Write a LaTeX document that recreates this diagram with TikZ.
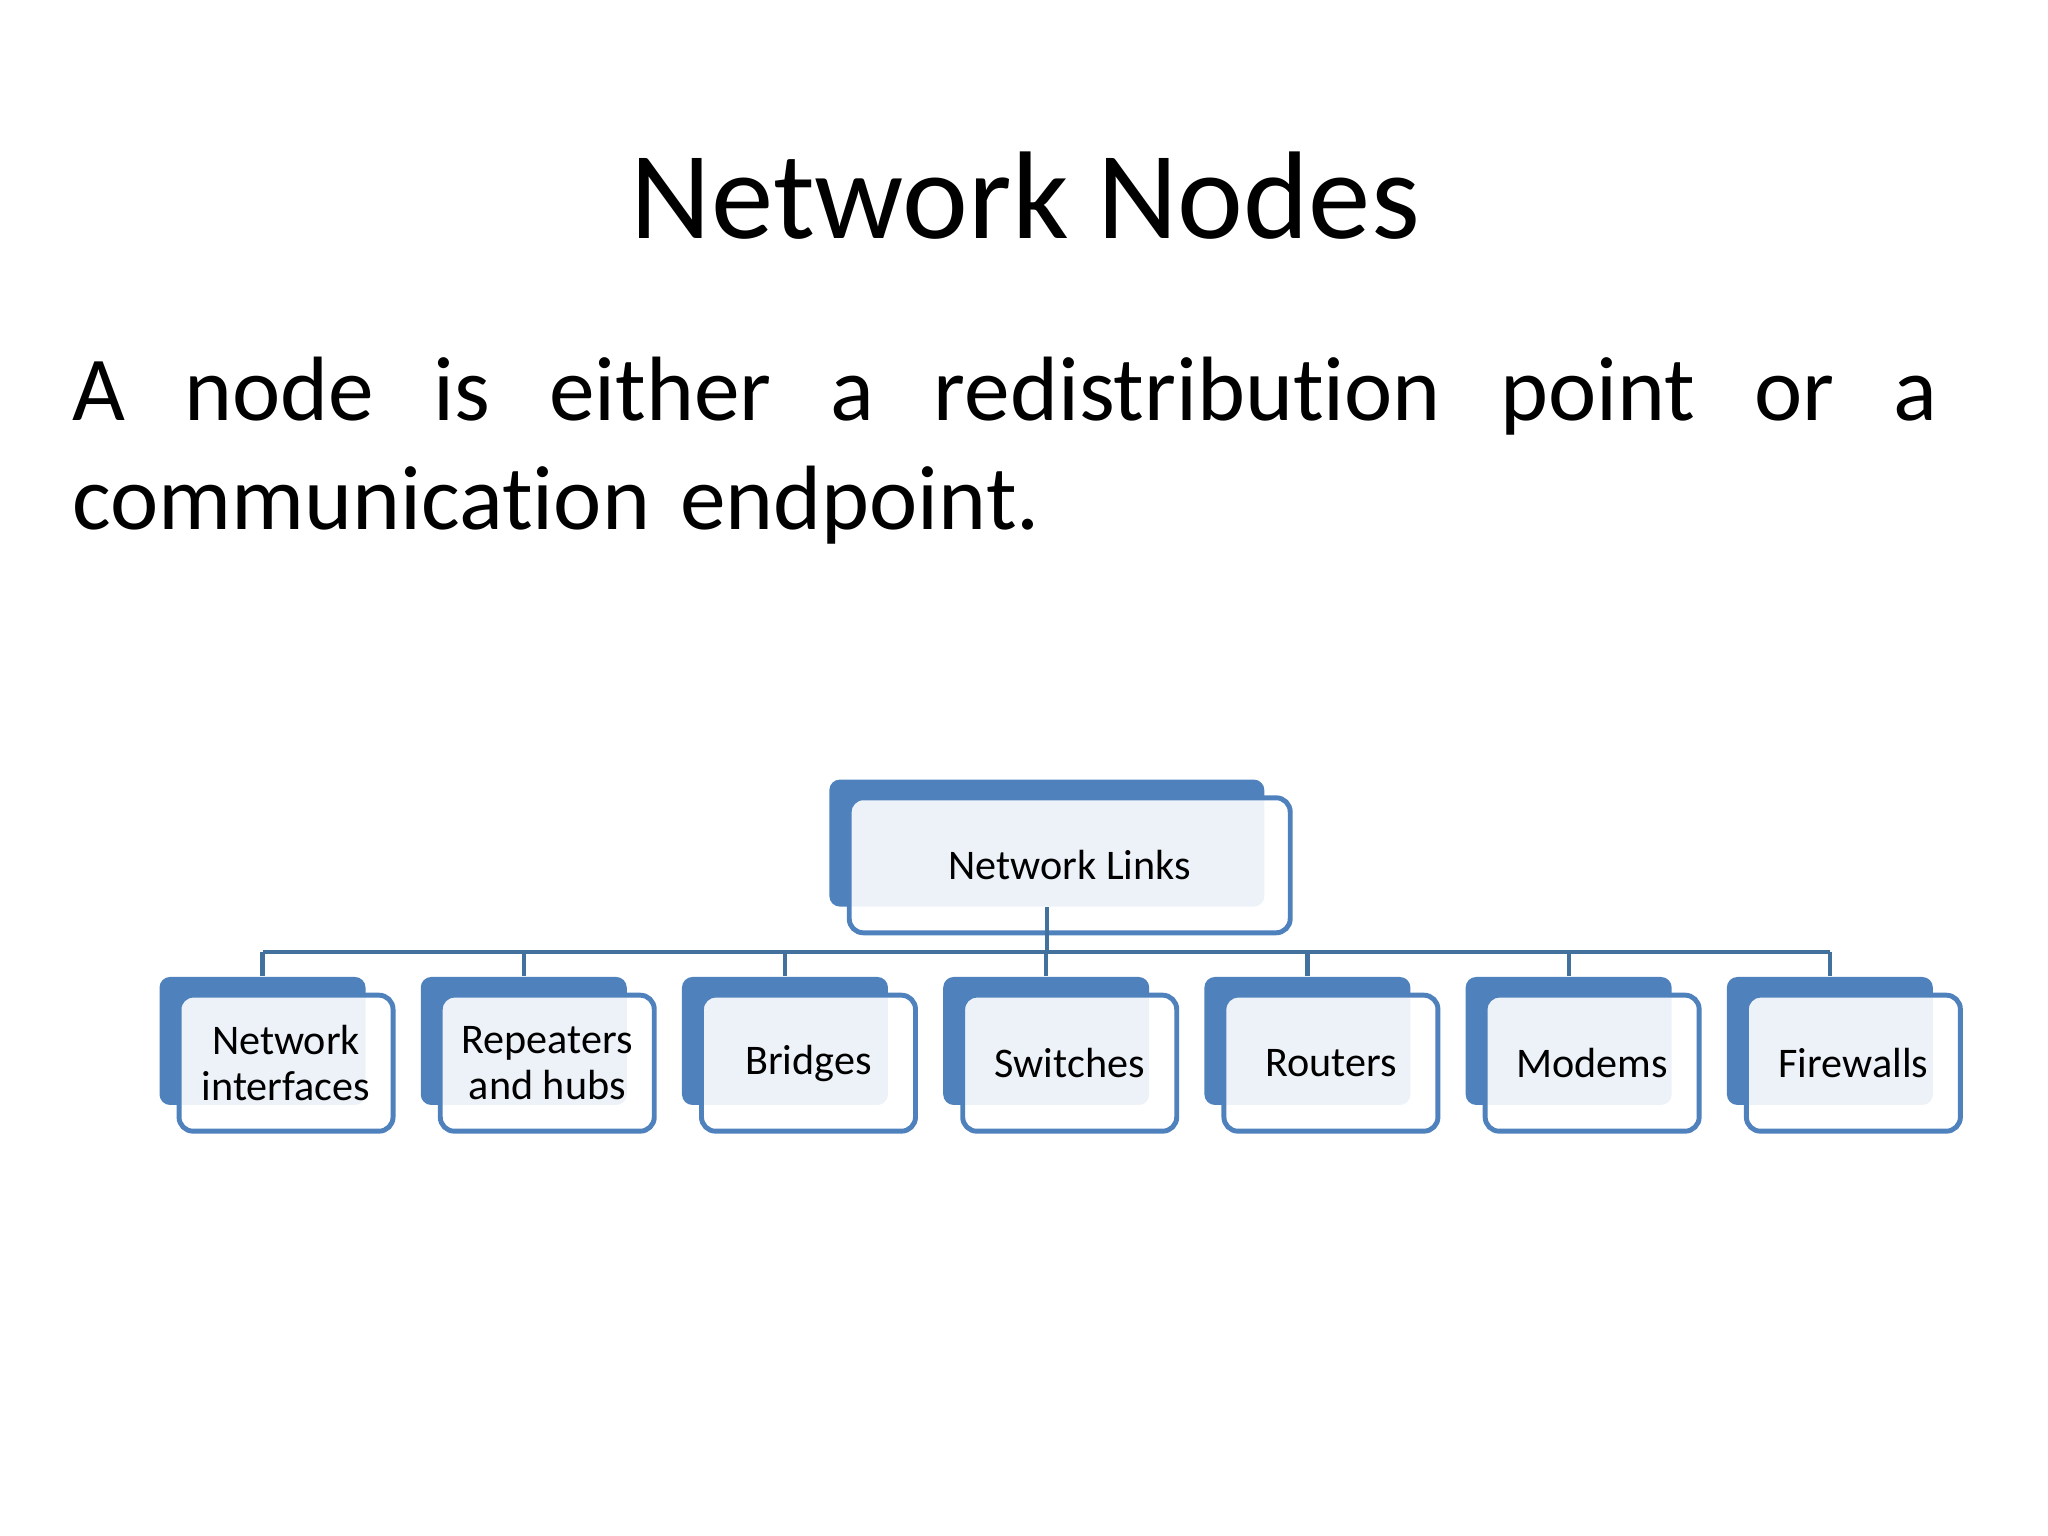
\documentclass[tikz,border=0pt]{standalone}
\usepackage{fontspec}
\setmainfont{Carlito}[Ligatures=CommonOff]
\usetikzlibrary{positioning}
\definecolor{accent}{HTML}{4F81BD}
\definecolor{linkline}{HTML}{41719C}

\begin{document}
\begin{tikzpicture}[x=0.01306cm, y=-0.01306cm]
\tikzstyle{backbox}=[rectangle, fill=accent, rounded corners=3pt, inner sep=0pt]
\tikzstyle{frontbox}=[rectangle, draw=accent, line width=1.4pt, fill=white, fill opacity=0.9, text opacity=1, rounded corners=4pt, inner sep=0pt, align=center, font=\fontsize{12}{13}\selectfont]
\tikzstyle{linkstyle}=[draw=linkline, line width=1.2pt]

\useasboundingbox (0,0) rectangle (1568,1176);

\node (title) at (785,150) {\fontsize{35.5}{40}\selectfont Network Nodes};
\node[anchor=north west, inner sep=0pt, text width=18.65cm, align=left, font=\fontsize{26}{31}\selectfont] (body) at (55,273)
  {A\hfill node\hfill is\hfill either\hfill a\hfill redistribution\hfill point\hfill or\hfill a\\communication endpoint.};

% parent
\node[backbox, minimum width=4.35cm, minimum height=1.27cm] (Pback) at (801.5,645.5) {};
\node[frontbox, minimum width=4.41cm, minimum height=1.35cm] (Pfront) at (819,662.5) {Network Links};
\coordinate (Pjoin) at (801.5,729);
\draw[linkstyle] (Pback.south) -- (Pjoin);
\coordinate (Lend) at (201,729);
\coordinate (Rend) at (1401,729);
\draw[linkstyle] (Lend) -- (Rend);

% children
\foreach \i/\txt in {0/{Network\\interfaces}, 1/{Repeaters\\and hubs}, 2/Bridges, 3/Switches, 4/Routers, 5/Modems, 6/Firewalls}{
  \node[backbox, minimum width=2.06cm, minimum height=1.28cm] (C\i back) at (201+200*\i,797) {};
  \node[frontbox, minimum width=2.14cm, minimum height=1.36cm] (C\i front) at (219+200*\i,814) {\txt};
  \coordinate (C\i top) at (201+200*\i,729);
  \draw[linkstyle] (C\i top) -- (C\i back.north);
}
\end{tikzpicture}
\end{document}
